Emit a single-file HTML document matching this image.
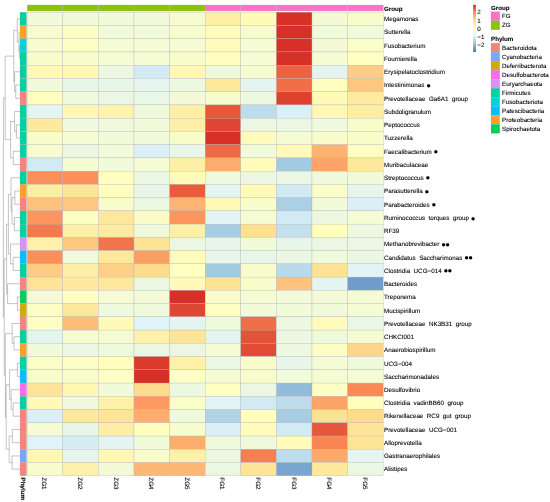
<!DOCTYPE html><html><head><meta charset="utf-8"><title>Heatmap</title>
<style>html,body{margin:0;padding:0;background:#fff}svg{display:block}text{font-family:"Liberation Sans",Arial,Helvetica,sans-serif;fill:#000;stroke:#000;stroke-width:0.09px;text-rendering:geometricPrecision}</style></head><body>
<svg width="550" height="502" viewBox="0 0 550 502">
<rect width="550" height="502" fill="#fff"/>
<path d="M20.00 45.31H19.40V58.56H20.00M20.00 32.07H19.00V51.94H19.40M20.00 18.82H17.30V42.00H19.00M20.00 85.05H15.80V98.30H20.00M20.00 71.81H14.60V91.67H15.80M17.30 30.41H13.80V81.74H14.60M20.00 124.79H16.40V138.03H20.00M20.00 111.54H14.60V131.41H16.40M20.00 151.28H13.20V164.53H20.00M14.60 121.48H10.60V157.90H13.20M13.80 56.08H5.20V139.69H10.60M20.00 191.02H14.80V204.26H20.00M20.00 217.51H14.40V230.75H20.00M14.80 197.64H12.00V224.13H14.40M20.00 177.77H11.00V210.89H12.00M20.00 257.25H13.20V270.49H20.00M20.00 244.00H10.60V263.87H13.20M11.00 194.33H8.40V253.93H10.60M20.00 296.98H17.40V310.23H20.00M20.00 283.74H7.60V303.61H17.40M8.40 224.13H6.60V293.67H7.60M20.00 336.72H14.00V349.97H20.00M20.00 323.47H12.20V343.34H14.00M20.00 363.21H17.40V376.46H20.00M20.00 402.95H13.20V416.19H20.00M20.00 389.70H11.20V409.57H13.20M17.40 369.83H9.60V399.64H11.20M20.00 429.44H12.40V442.69H20.00M20.00 455.93H12.00V469.18H20.00M12.40 436.06H9.20V462.55H12.00M9.60 384.74H6.20V449.31H9.20M12.20 333.41H5.40V417.02H6.20M6.60 258.90H4.20V375.22H5.40M5.20 97.88H3.40V317.06H4.20" fill="none" stroke="#6a6a6a" stroke-width="0.4"/>
<g stroke="#B0B0B0" stroke-width="0.3">
<rect x="27.20" y="5.0" width="35.60" height="6.0" fill="#8DC400"/>
<rect x="62.80" y="5.0" width="35.60" height="6.0" fill="#8DC400"/>
<rect x="98.40" y="5.0" width="35.60" height="6.0" fill="#8DC400"/>
<rect x="134.00" y="5.0" width="35.60" height="6.0" fill="#8DC400"/>
<rect x="169.60" y="5.0" width="35.60" height="6.0" fill="#8DC400"/>
<rect x="205.20" y="5.0" width="35.60" height="6.0" fill="#FD72C8"/>
<rect x="240.80" y="5.0" width="35.60" height="6.0" fill="#FD72C8"/>
<rect x="276.40" y="5.0" width="35.60" height="6.0" fill="#FD72C8"/>
<rect x="312.00" y="5.0" width="35.60" height="6.0" fill="#FD72C8"/>
<rect x="347.60" y="5.0" width="35.60" height="6.0" fill="#FD72C8"/>
<rect x="20.0" y="12.20" width="6.5" height="13.25" fill="#00D1A0"/>
<rect x="20.0" y="25.45" width="6.5" height="13.25" fill="#FFA024"/>
<rect x="20.0" y="38.69" width="6.5" height="13.25" fill="#00D0E0"/>
<rect x="20.0" y="51.94" width="6.5" height="13.25" fill="#00D1A0"/>
<rect x="20.0" y="65.18" width="6.5" height="13.25" fill="#00D1A0"/>
<rect x="20.0" y="78.43" width="6.5" height="13.25" fill="#00D1A0"/>
<rect x="20.0" y="91.67" width="6.5" height="13.25" fill="#F8837A"/>
<rect x="20.0" y="104.92" width="6.5" height="13.25" fill="#00D1A0"/>
<rect x="20.0" y="118.17" width="6.5" height="13.25" fill="#00D1A0"/>
<rect x="20.0" y="131.41" width="6.5" height="13.25" fill="#00D1A0"/>
<rect x="20.0" y="144.66" width="6.5" height="13.25" fill="#00D1A0"/>
<rect x="20.0" y="157.90" width="6.5" height="13.25" fill="#F8837A"/>
<rect x="20.0" y="171.15" width="6.5" height="13.25" fill="#00D1A0"/>
<rect x="20.0" y="184.39" width="6.5" height="13.25" fill="#FFA024"/>
<rect x="20.0" y="197.64" width="6.5" height="13.25" fill="#F8837A"/>
<rect x="20.0" y="210.89" width="6.5" height="13.25" fill="#00D1A0"/>
<rect x="20.0" y="224.13" width="6.5" height="13.25" fill="#00D1A0"/>
<rect x="20.0" y="237.38" width="6.5" height="13.25" fill="#D890FF"/>
<rect x="20.0" y="250.62" width="6.5" height="13.25" fill="#00BFFF"/>
<rect x="20.0" y="263.87" width="6.5" height="13.25" fill="#00D1A0"/>
<rect x="20.0" y="277.11" width="6.5" height="13.25" fill="#F8837A"/>
<rect x="20.0" y="290.36" width="6.5" height="13.25" fill="#00D05A"/>
<rect x="20.0" y="303.61" width="6.5" height="13.25" fill="#D0AB00"/>
<rect x="20.0" y="316.85" width="6.5" height="13.25" fill="#F8837A"/>
<rect x="20.0" y="330.10" width="6.5" height="13.25" fill="#00D1A0"/>
<rect x="20.0" y="343.34" width="6.5" height="13.25" fill="#FFA024"/>
<rect x="20.0" y="356.59" width="6.5" height="13.25" fill="#00D1A0"/>
<rect x="20.0" y="369.83" width="6.5" height="13.25" fill="#00BFFF"/>
<rect x="20.0" y="383.08" width="6.5" height="13.25" fill="#FF68F1"/>
<rect x="20.0" y="396.33" width="6.5" height="13.25" fill="#00D1A0"/>
<rect x="20.0" y="409.57" width="6.5" height="13.25" fill="#F8837A"/>
<rect x="20.0" y="422.82" width="6.5" height="13.25" fill="#F8837A"/>
<rect x="20.0" y="436.06" width="6.5" height="13.25" fill="#F8837A"/>
<rect x="20.0" y="449.31" width="6.5" height="13.25" fill="#7CA5F8"/>
<rect x="20.0" y="462.55" width="6.5" height="13.25" fill="#F8837A"/>
<rect x="27.20" y="12.20" width="35.60" height="13.25" fill="#F1FAD9"/>
<rect x="62.80" y="12.20" width="35.60" height="13.25" fill="#F1FAD9"/>
<rect x="98.40" y="12.20" width="35.60" height="13.25" fill="#F1FAD9"/>
<rect x="134.00" y="12.20" width="35.60" height="13.25" fill="#F1FAD9"/>
<rect x="169.60" y="12.20" width="35.60" height="13.25" fill="#F7FCCF"/>
<rect x="205.20" y="12.20" width="35.60" height="13.25" fill="#FEEFA7"/>
<rect x="240.80" y="12.20" width="35.60" height="13.25" fill="#FFFAB8"/>
<rect x="276.40" y="12.20" width="35.60" height="13.25" fill="#D73027"/>
<rect x="312.00" y="12.20" width="35.60" height="13.25" fill="#F3FAD5"/>
<rect x="347.60" y="12.20" width="35.60" height="13.25" fill="#F8FCCB"/>
<rect x="27.20" y="25.45" width="35.60" height="13.25" fill="#F7FCCF"/>
<rect x="62.80" y="25.45" width="35.60" height="13.25" fill="#FCFEC4"/>
<rect x="98.40" y="25.45" width="35.60" height="13.25" fill="#F1FAD9"/>
<rect x="134.00" y="25.45" width="35.60" height="13.25" fill="#F1FAD9"/>
<rect x="169.60" y="25.45" width="35.60" height="13.25" fill="#F7FCCF"/>
<rect x="205.20" y="25.45" width="35.60" height="13.25" fill="#FFFCBB"/>
<rect x="240.80" y="25.45" width="35.60" height="13.25" fill="#F8FCCB"/>
<rect x="276.40" y="25.45" width="35.60" height="13.25" fill="#D73027"/>
<rect x="312.00" y="25.45" width="35.60" height="13.25" fill="#F1FAD9"/>
<rect x="347.60" y="25.45" width="35.60" height="13.25" fill="#F1FAD9"/>
<rect x="27.20" y="38.69" width="35.60" height="13.25" fill="#F7FCCF"/>
<rect x="62.80" y="38.69" width="35.60" height="13.25" fill="#FCFEC4"/>
<rect x="98.40" y="38.69" width="35.60" height="13.25" fill="#F5FBD2"/>
<rect x="134.00" y="38.69" width="35.60" height="13.25" fill="#F5FBD2"/>
<rect x="169.60" y="38.69" width="35.60" height="13.25" fill="#F5FBD2"/>
<rect x="205.20" y="38.69" width="35.60" height="13.25" fill="#FFFCBB"/>
<rect x="240.80" y="38.69" width="35.60" height="13.25" fill="#F5FBD2"/>
<rect x="276.40" y="38.69" width="35.60" height="13.25" fill="#D73027"/>
<rect x="312.00" y="38.69" width="35.60" height="13.25" fill="#F3FAD5"/>
<rect x="347.60" y="38.69" width="35.60" height="13.25" fill="#FAFDC8"/>
<rect x="27.20" y="51.94" width="35.60" height="13.25" fill="#F8FCCB"/>
<rect x="62.80" y="51.94" width="35.60" height="13.25" fill="#F8FCCB"/>
<rect x="98.40" y="51.94" width="35.60" height="13.25" fill="#F5FBD2"/>
<rect x="134.00" y="51.94" width="35.60" height="13.25" fill="#F5FBD2"/>
<rect x="169.60" y="51.94" width="35.60" height="13.25" fill="#F8FCCB"/>
<rect x="205.20" y="51.94" width="35.60" height="13.25" fill="#FFFEBE"/>
<rect x="240.80" y="51.94" width="35.60" height="13.25" fill="#F5FBD2"/>
<rect x="276.40" y="51.94" width="35.60" height="13.25" fill="#D73027"/>
<rect x="312.00" y="51.94" width="35.60" height="13.25" fill="#F5FBD2"/>
<rect x="347.60" y="51.94" width="35.60" height="13.25" fill="#FEFFC1"/>
<rect x="27.20" y="65.18" width="35.60" height="13.25" fill="#FFFAB8"/>
<rect x="62.80" y="65.18" width="35.60" height="13.25" fill="#FFF8B5"/>
<rect x="98.40" y="65.18" width="35.60" height="13.25" fill="#EBF7E3"/>
<rect x="134.00" y="65.18" width="35.60" height="13.25" fill="#D2EAF3"/>
<rect x="169.60" y="65.18" width="35.60" height="13.25" fill="#FFF8B5"/>
<rect x="205.20" y="65.18" width="35.60" height="13.25" fill="#EFF9DC"/>
<rect x="240.80" y="65.18" width="35.60" height="13.25" fill="#F7FCCF"/>
<rect x="276.40" y="65.18" width="35.60" height="13.25" fill="#EB6342"/>
<rect x="312.00" y="65.18" width="35.60" height="13.25" fill="#E4F4F1"/>
<rect x="347.60" y="65.18" width="35.60" height="13.25" fill="#FECC83"/>
<rect x="27.20" y="78.43" width="35.60" height="13.25" fill="#F1FAD9"/>
<rect x="62.80" y="78.43" width="35.60" height="13.25" fill="#E8F6EA"/>
<rect x="98.40" y="78.43" width="35.60" height="13.25" fill="#E8F6EA"/>
<rect x="134.00" y="78.43" width="35.60" height="13.25" fill="#E6F5EE"/>
<rect x="169.60" y="78.43" width="35.60" height="13.25" fill="#EDF8E0"/>
<rect x="205.20" y="78.43" width="35.60" height="13.25" fill="#FEE89B"/>
<rect x="240.80" y="78.43" width="35.60" height="13.25" fill="#E4F4F1"/>
<rect x="276.40" y="78.43" width="35.60" height="13.25" fill="#F06E48"/>
<rect x="312.00" y="78.43" width="35.60" height="13.25" fill="#FFFEBE"/>
<rect x="347.60" y="78.43" width="35.60" height="13.25" fill="#FDC77F"/>
<rect x="27.20" y="91.67" width="35.60" height="13.25" fill="#FFFEBE"/>
<rect x="62.80" y="91.67" width="35.60" height="13.25" fill="#EFF9DC"/>
<rect x="98.40" y="91.67" width="35.60" height="13.25" fill="#EBF7E3"/>
<rect x="134.00" y="91.67" width="35.60" height="13.25" fill="#E9F7E7"/>
<rect x="169.60" y="91.67" width="35.60" height="13.25" fill="#F3FAD5"/>
<rect x="205.20" y="91.67" width="35.60" height="13.25" fill="#F7FCCF"/>
<rect x="240.80" y="91.67" width="35.60" height="13.25" fill="#EDF8E0"/>
<rect x="276.40" y="91.67" width="35.60" height="13.25" fill="#DE4130"/>
<rect x="312.00" y="91.67" width="35.60" height="13.25" fill="#FFFAB8"/>
<rect x="347.60" y="91.67" width="35.60" height="13.25" fill="#FEEBA1"/>
<rect x="27.20" y="104.92" width="35.60" height="13.25" fill="#E4F4F1"/>
<rect x="62.80" y="104.92" width="35.60" height="13.25" fill="#FFF7B2"/>
<rect x="98.40" y="104.92" width="35.60" height="13.25" fill="#FFF3AC"/>
<rect x="134.00" y="104.92" width="35.60" height="13.25" fill="#EFF9DC"/>
<rect x="169.60" y="104.92" width="35.60" height="13.25" fill="#FEEFA7"/>
<rect x="205.20" y="104.92" width="35.60" height="13.25" fill="#E7573C"/>
<rect x="240.80" y="104.92" width="35.60" height="13.25" fill="#BEDDEC"/>
<rect x="276.40" y="104.92" width="35.60" height="13.25" fill="#DBF0F6"/>
<rect x="312.00" y="104.92" width="35.60" height="13.25" fill="#FFF7B2"/>
<rect x="347.60" y="104.92" width="35.60" height="13.25" fill="#FEEDA4"/>
<rect x="27.20" y="118.17" width="35.60" height="13.25" fill="#FEE99E"/>
<rect x="62.80" y="118.17" width="35.60" height="13.25" fill="#EFF9DC"/>
<rect x="98.40" y="118.17" width="35.60" height="13.25" fill="#EFF9DC"/>
<rect x="134.00" y="118.17" width="35.60" height="13.25" fill="#F1FAD9"/>
<rect x="169.60" y="118.17" width="35.60" height="13.25" fill="#FEEFA7"/>
<rect x="205.20" y="118.17" width="35.60" height="13.25" fill="#E04733"/>
<rect x="240.80" y="118.17" width="35.60" height="13.25" fill="#EBF7E3"/>
<rect x="276.40" y="118.17" width="35.60" height="13.25" fill="#EBF7E3"/>
<rect x="312.00" y="118.17" width="35.60" height="13.25" fill="#EFF9DC"/>
<rect x="347.60" y="118.17" width="35.60" height="13.25" fill="#F8FCCB"/>
<rect x="27.20" y="131.41" width="35.60" height="13.25" fill="#F8FCCB"/>
<rect x="62.80" y="131.41" width="35.60" height="13.25" fill="#F5FBD2"/>
<rect x="98.40" y="131.41" width="35.60" height="13.25" fill="#F1FAD9"/>
<rect x="134.00" y="131.41" width="35.60" height="13.25" fill="#F1FAD9"/>
<rect x="169.60" y="131.41" width="35.60" height="13.25" fill="#F8FCCB"/>
<rect x="205.20" y="131.41" width="35.60" height="13.25" fill="#D73027"/>
<rect x="240.80" y="131.41" width="35.60" height="13.25" fill="#FFFCBB"/>
<rect x="276.40" y="131.41" width="35.60" height="13.25" fill="#F5FBD2"/>
<rect x="312.00" y="131.41" width="35.60" height="13.25" fill="#F8FCCB"/>
<rect x="347.60" y="131.41" width="35.60" height="13.25" fill="#F8FCCB"/>
<rect x="27.20" y="144.66" width="35.60" height="13.25" fill="#F7FCCF"/>
<rect x="62.80" y="144.66" width="35.60" height="13.25" fill="#EBF7E3"/>
<rect x="98.40" y="144.66" width="35.60" height="13.25" fill="#F1FAD9"/>
<rect x="134.00" y="144.66" width="35.60" height="13.25" fill="#DBF0F6"/>
<rect x="169.60" y="144.66" width="35.60" height="13.25" fill="#E9F7E7"/>
<rect x="205.20" y="144.66" width="35.60" height="13.25" fill="#ED6845"/>
<rect x="240.80" y="144.66" width="35.60" height="13.25" fill="#F1FAD9"/>
<rect x="276.40" y="144.66" width="35.60" height="13.25" fill="#FFFAB8"/>
<rect x="312.00" y="144.66" width="35.60" height="13.25" fill="#FDB372"/>
<rect x="347.60" y="144.66" width="35.60" height="13.25" fill="#FCFEC4"/>
<rect x="27.20" y="157.90" width="35.60" height="13.25" fill="#D2EAF3"/>
<rect x="62.80" y="157.90" width="35.60" height="13.25" fill="#F5FBD2"/>
<rect x="98.40" y="157.90" width="35.60" height="13.25" fill="#F1FAD9"/>
<rect x="134.00" y="157.90" width="35.60" height="13.25" fill="#F5FBD2"/>
<rect x="169.60" y="157.90" width="35.60" height="13.25" fill="#FEEFA7"/>
<rect x="205.20" y="157.90" width="35.60" height="13.25" fill="#FDAE6F"/>
<rect x="240.80" y="157.90" width="35.60" height="13.25" fill="#FFFCBB"/>
<rect x="276.40" y="157.90" width="35.60" height="13.25" fill="#A2CAE1"/>
<rect x="312.00" y="157.90" width="35.60" height="13.25" fill="#FDA468"/>
<rect x="347.60" y="157.90" width="35.60" height="13.25" fill="#FEE89B"/>
<rect x="27.20" y="171.15" width="35.60" height="13.25" fill="#FC905B"/>
<rect x="62.80" y="171.15" width="35.60" height="13.25" fill="#FC905B"/>
<rect x="98.40" y="171.15" width="35.60" height="13.25" fill="#FFFEBE"/>
<rect x="134.00" y="171.15" width="35.60" height="13.25" fill="#EBF7E3"/>
<rect x="169.60" y="171.15" width="35.60" height="13.25" fill="#FFFCBB"/>
<rect x="205.20" y="171.15" width="35.60" height="13.25" fill="#EFF9DC"/>
<rect x="240.80" y="171.15" width="35.60" height="13.25" fill="#EBF7E3"/>
<rect x="276.40" y="171.15" width="35.60" height="13.25" fill="#EBF7E3"/>
<rect x="312.00" y="171.15" width="35.60" height="13.25" fill="#EFF9DC"/>
<rect x="347.60" y="171.15" width="35.60" height="13.25" fill="#F1FAD9"/>
<rect x="27.20" y="184.39" width="35.60" height="13.25" fill="#FEEDA4"/>
<rect x="62.80" y="184.39" width="35.60" height="13.25" fill="#FEE496"/>
<rect x="98.40" y="184.39" width="35.60" height="13.25" fill="#FFFEBE"/>
<rect x="134.00" y="184.39" width="35.60" height="13.25" fill="#E8F6EA"/>
<rect x="169.60" y="184.39" width="35.60" height="13.25" fill="#E95D3F"/>
<rect x="205.20" y="184.39" width="35.60" height="13.25" fill="#E4F4F1"/>
<rect x="240.80" y="184.39" width="35.60" height="13.25" fill="#FFFAB8"/>
<rect x="276.40" y="184.39" width="35.60" height="13.25" fill="#D2EAF3"/>
<rect x="312.00" y="184.39" width="35.60" height="13.25" fill="#FAFDC8"/>
<rect x="347.60" y="184.39" width="35.60" height="13.25" fill="#E8F6EA"/>
<rect x="27.20" y="197.64" width="35.60" height="13.25" fill="#FDC27C"/>
<rect x="62.80" y="197.64" width="35.60" height="13.25" fill="#FDC77F"/>
<rect x="98.40" y="197.64" width="35.60" height="13.25" fill="#F8FCCB"/>
<rect x="134.00" y="197.64" width="35.60" height="13.25" fill="#EDF8E0"/>
<rect x="169.60" y="197.64" width="35.60" height="13.25" fill="#FDB372"/>
<rect x="205.20" y="197.64" width="35.60" height="13.25" fill="#FFFAB8"/>
<rect x="240.80" y="197.64" width="35.60" height="13.25" fill="#F8FCCB"/>
<rect x="276.40" y="197.64" width="35.60" height="13.25" fill="#ABD0E5"/>
<rect x="312.00" y="197.64" width="35.60" height="13.25" fill="#F1FAD9"/>
<rect x="347.60" y="197.64" width="35.60" height="13.25" fill="#DBF0F6"/>
<rect x="27.20" y="210.89" width="35.60" height="13.25" fill="#FC955E"/>
<rect x="62.80" y="210.89" width="35.60" height="13.25" fill="#FCFEC4"/>
<rect x="98.40" y="210.89" width="35.60" height="13.25" fill="#FEE89B"/>
<rect x="134.00" y="210.89" width="35.60" height="13.25" fill="#FAFDC8"/>
<rect x="169.60" y="210.89" width="35.60" height="13.25" fill="#FC955E"/>
<rect x="205.20" y="210.89" width="35.60" height="13.25" fill="#E2F4F5"/>
<rect x="240.80" y="210.89" width="35.60" height="13.25" fill="#F5FBD2"/>
<rect x="276.40" y="210.89" width="35.60" height="13.25" fill="#D2EAF3"/>
<rect x="312.00" y="210.89" width="35.60" height="13.25" fill="#EDF8E0"/>
<rect x="347.60" y="210.89" width="35.60" height="13.25" fill="#F5FBD2"/>
<rect x="27.20" y="224.13" width="35.60" height="13.25" fill="#F4794E"/>
<rect x="62.80" y="224.13" width="35.60" height="13.25" fill="#FEEFA7"/>
<rect x="98.40" y="224.13" width="35.60" height="13.25" fill="#FEEBA1"/>
<rect x="134.00" y="224.13" width="35.60" height="13.25" fill="#EFF9DC"/>
<rect x="169.60" y="224.13" width="35.60" height="13.25" fill="#FEEFA7"/>
<rect x="205.20" y="224.13" width="35.60" height="13.25" fill="#A7CDE3"/>
<rect x="240.80" y="224.13" width="35.60" height="13.25" fill="#FEE090"/>
<rect x="276.40" y="224.13" width="35.60" height="13.25" fill="#C3E0ED"/>
<rect x="312.00" y="224.13" width="35.60" height="13.25" fill="#FFFEBE"/>
<rect x="347.60" y="224.13" width="35.60" height="13.25" fill="#EDF8E0"/>
<rect x="27.20" y="237.38" width="35.60" height="13.25" fill="#FFF1AA"/>
<rect x="62.80" y="237.38" width="35.60" height="13.25" fill="#FDC77F"/>
<rect x="98.40" y="237.38" width="35.60" height="13.25" fill="#F2744B"/>
<rect x="134.00" y="237.38" width="35.60" height="13.25" fill="#FEE293"/>
<rect x="169.60" y="237.38" width="35.60" height="13.25" fill="#EBF7E3"/>
<rect x="205.20" y="237.38" width="35.60" height="13.25" fill="#E8F6EA"/>
<rect x="240.80" y="237.38" width="35.60" height="13.25" fill="#F1FAD9"/>
<rect x="276.40" y="237.38" width="35.60" height="13.25" fill="#E8F6EA"/>
<rect x="312.00" y="237.38" width="35.60" height="13.25" fill="#EBF7E3"/>
<rect x="347.60" y="237.38" width="35.60" height="13.25" fill="#EBF7E3"/>
<rect x="27.20" y="250.62" width="35.60" height="13.25" fill="#FC905B"/>
<rect x="62.80" y="250.62" width="35.60" height="13.25" fill="#EFF9DC"/>
<rect x="98.40" y="250.62" width="35.60" height="13.25" fill="#FEE89B"/>
<rect x="134.00" y="250.62" width="35.60" height="13.25" fill="#FC9F65"/>
<rect x="169.60" y="250.62" width="35.60" height="13.25" fill="#FFFCBB"/>
<rect x="205.20" y="250.62" width="35.60" height="13.25" fill="#E8F6EA"/>
<rect x="240.80" y="250.62" width="35.60" height="13.25" fill="#E8F6EA"/>
<rect x="276.40" y="250.62" width="35.60" height="13.25" fill="#EBF7E3"/>
<rect x="312.00" y="250.62" width="35.60" height="13.25" fill="#EFF9DC"/>
<rect x="347.60" y="250.62" width="35.60" height="13.25" fill="#EBF7E3"/>
<rect x="27.20" y="263.87" width="35.60" height="13.25" fill="#FECC83"/>
<rect x="62.80" y="263.87" width="35.60" height="13.25" fill="#FEEFA7"/>
<rect x="98.40" y="263.87" width="35.60" height="13.25" fill="#FED186"/>
<rect x="134.00" y="263.87" width="35.60" height="13.25" fill="#FEDB8D"/>
<rect x="169.60" y="263.87" width="35.60" height="13.25" fill="#FEFFC1"/>
<rect x="205.20" y="263.87" width="35.60" height="13.25" fill="#A2CAE1"/>
<rect x="240.80" y="263.87" width="35.60" height="13.25" fill="#F8FCCB"/>
<rect x="276.40" y="263.87" width="35.60" height="13.25" fill="#BADAEA"/>
<rect x="312.00" y="263.87" width="35.60" height="13.25" fill="#FEE293"/>
<rect x="347.60" y="263.87" width="35.60" height="13.25" fill="#E2F4F5"/>
<rect x="27.20" y="277.11" width="35.60" height="13.25" fill="#FEE496"/>
<rect x="62.80" y="277.11" width="35.60" height="13.25" fill="#FEE99E"/>
<rect x="98.40" y="277.11" width="35.60" height="13.25" fill="#FEE89B"/>
<rect x="134.00" y="277.11" width="35.60" height="13.25" fill="#EBF7E3"/>
<rect x="169.60" y="277.11" width="35.60" height="13.25" fill="#FFFAB8"/>
<rect x="205.20" y="277.11" width="35.60" height="13.25" fill="#FEE293"/>
<rect x="240.80" y="277.11" width="35.60" height="13.25" fill="#F8FCCB"/>
<rect x="276.40" y="277.11" width="35.60" height="13.25" fill="#FDC27C"/>
<rect x="312.00" y="277.11" width="35.60" height="13.25" fill="#E4F4F1"/>
<rect x="347.60" y="277.11" width="35.60" height="13.25" fill="#6E9DC9"/>
<rect x="27.20" y="290.36" width="35.60" height="13.25" fill="#F3FAD5"/>
<rect x="62.80" y="290.36" width="35.60" height="13.25" fill="#FEFFC1"/>
<rect x="98.40" y="290.36" width="35.60" height="13.25" fill="#F5FBD2"/>
<rect x="134.00" y="290.36" width="35.60" height="13.25" fill="#F3FAD5"/>
<rect x="169.60" y="290.36" width="35.60" height="13.25" fill="#D73027"/>
<rect x="205.20" y="290.36" width="35.60" height="13.25" fill="#F8FCCB"/>
<rect x="240.80" y="290.36" width="35.60" height="13.25" fill="#F5FBD2"/>
<rect x="276.40" y="290.36" width="35.60" height="13.25" fill="#F1FAD9"/>
<rect x="312.00" y="290.36" width="35.60" height="13.25" fill="#F3FAD5"/>
<rect x="347.60" y="290.36" width="35.60" height="13.25" fill="#F5FBD2"/>
<rect x="27.20" y="303.61" width="35.60" height="13.25" fill="#FCFEC4"/>
<rect x="62.80" y="303.61" width="35.60" height="13.25" fill="#FEE89B"/>
<rect x="98.40" y="303.61" width="35.60" height="13.25" fill="#EFF9DC"/>
<rect x="134.00" y="303.61" width="35.60" height="13.25" fill="#EFF9DC"/>
<rect x="169.60" y="303.61" width="35.60" height="13.25" fill="#E04733"/>
<rect x="205.20" y="303.61" width="35.60" height="13.25" fill="#FEFFC1"/>
<rect x="240.80" y="303.61" width="35.60" height="13.25" fill="#F1FAD9"/>
<rect x="276.40" y="303.61" width="35.60" height="13.25" fill="#F1FAD9"/>
<rect x="312.00" y="303.61" width="35.60" height="13.25" fill="#F1FAD9"/>
<rect x="347.60" y="303.61" width="35.60" height="13.25" fill="#F5FBD2"/>
<rect x="27.20" y="316.85" width="35.60" height="13.25" fill="#FCFEC4"/>
<rect x="62.80" y="316.85" width="35.60" height="13.25" fill="#FDBD79"/>
<rect x="98.40" y="316.85" width="35.60" height="13.25" fill="#FFFAB8"/>
<rect x="134.00" y="316.85" width="35.60" height="13.25" fill="#E0F3F8"/>
<rect x="169.60" y="316.85" width="35.60" height="13.25" fill="#E4F4F1"/>
<rect x="205.20" y="316.85" width="35.60" height="13.25" fill="#EFF9DC"/>
<rect x="240.80" y="316.85" width="35.60" height="13.25" fill="#F06E48"/>
<rect x="276.40" y="316.85" width="35.60" height="13.25" fill="#EDF8E0"/>
<rect x="312.00" y="316.85" width="35.60" height="13.25" fill="#FFFCBB"/>
<rect x="347.60" y="316.85" width="35.60" height="13.25" fill="#E9F7E7"/>
<rect x="27.20" y="330.10" width="35.60" height="13.25" fill="#E4F4F1"/>
<rect x="62.80" y="330.10" width="35.60" height="13.25" fill="#F7FCCF"/>
<rect x="98.40" y="330.10" width="35.60" height="13.25" fill="#F5FBD2"/>
<rect x="134.00" y="330.10" width="35.60" height="13.25" fill="#FFF1AA"/>
<rect x="169.60" y="330.10" width="35.60" height="13.25" fill="#FEE496"/>
<rect x="205.20" y="330.10" width="35.60" height="13.25" fill="#E4F4F1"/>
<rect x="240.80" y="330.10" width="35.60" height="13.25" fill="#E45239"/>
<rect x="276.40" y="330.10" width="35.60" height="13.25" fill="#EBF7E3"/>
<rect x="312.00" y="330.10" width="35.60" height="13.25" fill="#EFF9DC"/>
<rect x="347.60" y="330.10" width="35.60" height="13.25" fill="#F5FBD2"/>
<rect x="27.20" y="343.34" width="35.60" height="13.25" fill="#F1FAD9"/>
<rect x="62.80" y="343.34" width="35.60" height="13.25" fill="#EBF7E3"/>
<rect x="98.40" y="343.34" width="35.60" height="13.25" fill="#EFF9DC"/>
<rect x="134.00" y="343.34" width="35.60" height="13.25" fill="#EBF7E3"/>
<rect x="169.60" y="343.34" width="35.60" height="13.25" fill="#EBF7E3"/>
<rect x="205.20" y="343.34" width="35.60" height="13.25" fill="#F5FBD2"/>
<rect x="240.80" y="343.34" width="35.60" height="13.25" fill="#E24C36"/>
<rect x="276.40" y="343.34" width="35.60" height="13.25" fill="#EDF8E0"/>
<rect x="312.00" y="343.34" width="35.60" height="13.25" fill="#FCFEC4"/>
<rect x="347.60" y="343.34" width="35.60" height="13.25" fill="#FED689"/>
<rect x="27.20" y="356.59" width="35.60" height="13.25" fill="#FAFDC8"/>
<rect x="62.80" y="356.59" width="35.60" height="13.25" fill="#FAFDC8"/>
<rect x="98.40" y="356.59" width="35.60" height="13.25" fill="#FFFEBE"/>
<rect x="134.00" y="356.59" width="35.60" height="13.25" fill="#DB3B2D"/>
<rect x="169.60" y="356.59" width="35.60" height="13.25" fill="#FFF1AA"/>
<rect x="205.20" y="356.59" width="35.60" height="13.25" fill="#EBF7E3"/>
<rect x="240.80" y="356.59" width="35.60" height="13.25" fill="#F8FCCB"/>
<rect x="276.40" y="356.59" width="35.60" height="13.25" fill="#E8F6EA"/>
<rect x="312.00" y="356.59" width="35.60" height="13.25" fill="#F5FBD2"/>
<rect x="347.60" y="356.59" width="35.60" height="13.25" fill="#EFF9DC"/>
<rect x="27.20" y="369.83" width="35.60" height="13.25" fill="#F8FCCB"/>
<rect x="62.80" y="369.83" width="35.60" height="13.25" fill="#F8FCCB"/>
<rect x="98.40" y="369.83" width="35.60" height="13.25" fill="#FCFEC4"/>
<rect x="134.00" y="369.83" width="35.60" height="13.25" fill="#D73027"/>
<rect x="169.60" y="369.83" width="35.60" height="13.25" fill="#FCFEC4"/>
<rect x="205.20" y="369.83" width="35.60" height="13.25" fill="#F5FBD2"/>
<rect x="240.80" y="369.83" width="35.60" height="13.25" fill="#F8FCCB"/>
<rect x="276.40" y="369.83" width="35.60" height="13.25" fill="#F1FAD9"/>
<rect x="312.00" y="369.83" width="35.60" height="13.25" fill="#F5FBD2"/>
<rect x="347.60" y="369.83" width="35.60" height="13.25" fill="#F5FBD2"/>
<rect x="27.20" y="383.08" width="35.60" height="13.25" fill="#FEE496"/>
<rect x="62.80" y="383.08" width="35.60" height="13.25" fill="#FFF7B2"/>
<rect x="98.40" y="383.08" width="35.60" height="13.25" fill="#F1FAD9"/>
<rect x="134.00" y="383.08" width="35.60" height="13.25" fill="#FEDB8D"/>
<rect x="169.60" y="383.08" width="35.60" height="13.25" fill="#EDF8E0"/>
<rect x="205.20" y="383.08" width="35.60" height="13.25" fill="#FEFFC1"/>
<rect x="240.80" y="383.08" width="35.60" height="13.25" fill="#EBF7E3"/>
<rect x="276.40" y="383.08" width="35.60" height="13.25" fill="#8FBDDA"/>
<rect x="312.00" y="383.08" width="35.60" height="13.25" fill="#FCFEC4"/>
<rect x="347.60" y="383.08" width="35.60" height="13.25" fill="#FB8A57"/>
<rect x="27.20" y="396.33" width="35.60" height="13.25" fill="#FFFAB8"/>
<rect x="62.80" y="396.33" width="35.60" height="13.25" fill="#EFF9DC"/>
<rect x="98.40" y="396.33" width="35.60" height="13.25" fill="#FFF1AA"/>
<rect x="134.00" y="396.33" width="35.60" height="13.25" fill="#FC9A61"/>
<rect x="169.60" y="396.33" width="35.60" height="13.25" fill="#FAFDC8"/>
<rect x="205.20" y="396.33" width="35.60" height="13.25" fill="#E2F4F5"/>
<rect x="240.80" y="396.33" width="35.60" height="13.25" fill="#D2EAF3"/>
<rect x="276.40" y="396.33" width="35.60" height="13.25" fill="#BEDDEC"/>
<rect x="312.00" y="396.33" width="35.60" height="13.25" fill="#FDA468"/>
<rect x="347.60" y="396.33" width="35.60" height="13.25" fill="#FFFEBE"/>
<rect x="27.20" y="409.57" width="35.60" height="13.25" fill="#DBF0F6"/>
<rect x="62.80" y="409.57" width="35.60" height="13.25" fill="#FEE89B"/>
<rect x="98.40" y="409.57" width="35.60" height="13.25" fill="#FEE496"/>
<rect x="134.00" y="409.57" width="35.60" height="13.25" fill="#FDAE6F"/>
<rect x="169.60" y="409.57" width="35.60" height="13.25" fill="#EFF9DC"/>
<rect x="205.20" y="409.57" width="35.60" height="13.25" fill="#B0D3E6"/>
<rect x="240.80" y="409.57" width="35.60" height="13.25" fill="#FFFEBE"/>
<rect x="276.40" y="409.57" width="35.60" height="13.25" fill="#A7CDE3"/>
<rect x="312.00" y="409.57" width="35.60" height="13.25" fill="#FEE293"/>
<rect x="347.60" y="409.57" width="35.60" height="13.25" fill="#FEDB8D"/>
<rect x="27.20" y="422.82" width="35.60" height="13.25" fill="#F5FBD2"/>
<rect x="62.80" y="422.82" width="35.60" height="13.25" fill="#E8F6EA"/>
<rect x="98.40" y="422.82" width="35.60" height="13.25" fill="#FEEDA4"/>
<rect x="134.00" y="422.82" width="35.60" height="13.25" fill="#FFFEBE"/>
<rect x="169.60" y="422.82" width="35.60" height="13.25" fill="#F7FCCF"/>
<rect x="205.20" y="422.82" width="35.60" height="13.25" fill="#DBF0F6"/>
<rect x="240.80" y="422.82" width="35.60" height="13.25" fill="#FFFCBB"/>
<rect x="276.40" y="422.82" width="35.60" height="13.25" fill="#D2EAF3"/>
<rect x="312.00" y="422.82" width="35.60" height="13.25" fill="#E7573C"/>
<rect x="347.60" y="422.82" width="35.60" height="13.25" fill="#FEE496"/>
<rect x="27.20" y="436.06" width="35.60" height="13.25" fill="#E0F3F8"/>
<rect x="62.80" y="436.06" width="35.60" height="13.25" fill="#D6EDF4"/>
<rect x="98.40" y="436.06" width="35.60" height="13.25" fill="#E4F4F1"/>
<rect x="134.00" y="436.06" width="35.60" height="13.25" fill="#F1FAD9"/>
<rect x="169.60" y="436.06" width="35.60" height="13.25" fill="#FDAE6F"/>
<rect x="205.20" y="436.06" width="35.60" height="13.25" fill="#EFF9DC"/>
<rect x="240.80" y="436.06" width="35.60" height="13.25" fill="#EFF9DC"/>
<rect x="276.40" y="436.06" width="35.60" height="13.25" fill="#FFFCBB"/>
<rect x="312.00" y="436.06" width="35.60" height="13.25" fill="#F98554"/>
<rect x="347.60" y="436.06" width="35.60" height="13.25" fill="#FEE496"/>
<rect x="27.20" y="449.31" width="35.60" height="13.25" fill="#FFF7B2"/>
<rect x="62.80" y="449.31" width="35.60" height="13.25" fill="#E6F5EE"/>
<rect x="98.40" y="449.31" width="35.60" height="13.25" fill="#FFF8B5"/>
<rect x="134.00" y="449.31" width="35.60" height="13.25" fill="#F8FCCB"/>
<rect x="169.60" y="449.31" width="35.60" height="13.25" fill="#FFF1AA"/>
<rect x="205.20" y="449.31" width="35.60" height="13.25" fill="#EBF7E3"/>
<rect x="240.80" y="449.31" width="35.60" height="13.25" fill="#F67F51"/>
<rect x="276.40" y="449.31" width="35.60" height="13.25" fill="#BEDDEC"/>
<rect x="312.00" y="449.31" width="35.60" height="13.25" fill="#FDA96B"/>
<rect x="347.60" y="449.31" width="35.60" height="13.25" fill="#E6F5EE"/>
<rect x="27.20" y="462.55" width="35.60" height="13.25" fill="#F8FCCB"/>
<rect x="62.80" y="462.55" width="35.60" height="13.25" fill="#FFF1AA"/>
<rect x="98.40" y="462.55" width="35.60" height="13.25" fill="#F3FAD5"/>
<rect x="134.00" y="462.55" width="35.60" height="13.25" fill="#FDB875"/>
<rect x="169.60" y="462.55" width="35.60" height="13.25" fill="#FDB875"/>
<rect x="205.20" y="462.55" width="35.60" height="13.25" fill="#EBF7E3"/>
<rect x="240.80" y="462.55" width="35.60" height="13.25" fill="#FEE496"/>
<rect x="276.40" y="462.55" width="35.60" height="13.25" fill="#78A6CE"/>
<rect x="312.00" y="462.55" width="35.60" height="13.25" fill="#FEE89B"/>
<rect x="347.60" y="462.55" width="35.60" height="13.25" fill="#EBF7E3"/>
</g>
<text x="384.0" y="10.7" font-size="6.2" font-weight="bold">Group</text>
<text x="384.0" y="21.12" font-size="6.28" xml:space="preserve">Megamonas</text>
<text x="384.0" y="34.37" font-size="6.28" xml:space="preserve">Sutterella</text>
<text x="384.0" y="47.61" font-size="6.28" xml:space="preserve">Fusobacterium</text>
<text x="384.0" y="60.86" font-size="6.28" xml:space="preserve">Fournierella</text>
<text x="384.0" y="74.11" font-size="6.28" xml:space="preserve">Erysipelatoclostridium</text>
<text x="384.0" y="87.35" font-size="6.28" xml:space="preserve">Intestinimonas<tspan font-size="7.8" stroke="none" dx="1.8" dy="0.35">●</tspan></text>
<text x="384.0" y="100.60" font-size="6.28" xml:space="preserve">Prevotellaceae  Ga6A1  group</text>
<text x="384.0" y="113.84" font-size="6.28" xml:space="preserve">Subdoligranulum</text>
<text x="384.0" y="127.09" font-size="6.28" xml:space="preserve">Peptococcus</text>
<text x="384.0" y="140.33" font-size="6.28" xml:space="preserve">Tuzzerella</text>
<text x="384.0" y="153.58" font-size="6.28" xml:space="preserve">Faecalibacterium<tspan font-size="7.8" stroke="none" dx="1.8" dy="0.35">●</tspan></text>
<text x="384.0" y="166.83" font-size="6.28" xml:space="preserve">Muribaculaceae</text>
<text x="384.0" y="180.07" font-size="6.28" xml:space="preserve">Streptococcus<tspan font-size="7.8" stroke="none" dx="1.8" dy="0.35">●</tspan></text>
<text x="384.0" y="193.32" font-size="6.28" xml:space="preserve">Parasutterella<tspan font-size="7.8" stroke="none" dx="1.8" dy="0.35">●</tspan></text>
<text x="384.0" y="206.56" font-size="6.28" xml:space="preserve">Parabacteroides<tspan font-size="7.8" stroke="none" dx="1.8" dy="0.35">●</tspan></text>
<text x="384.0" y="219.81" font-size="6.28" xml:space="preserve">Ruminococcus  torques  group<tspan font-size="7.8" stroke="none" dx="1.8" dy="1.35">●</tspan></text>
<text x="384.0" y="233.05" font-size="6.28" xml:space="preserve">RF39</text>
<text x="384.0" y="246.30" font-size="6.28" xml:space="preserve">Methanobrevibacter<tspan font-size="7.8" stroke="none" dx="1.8" dy="0.35">●</tspan><tspan font-size="7.8" stroke="none" dx="-0.75" dy="0">●</tspan></text>
<text x="384.0" y="259.55" font-size="6.28" xml:space="preserve">Candidatus  Saccharimonas<tspan font-size="7.8" stroke="none" dx="1.8" dy="0.35">●</tspan><tspan font-size="7.8" stroke="none" dx="-0.75" dy="0">●</tspan></text>
<text x="384.0" y="272.79" font-size="6.28" xml:space="preserve">Clostridia  UCG−014<tspan font-size="7.8" stroke="none" dx="1.8" dy="0.35">●</tspan><tspan font-size="7.8" stroke="none" dx="-0.75" dy="0">●</tspan></text>
<text x="384.0" y="286.04" font-size="6.28" xml:space="preserve">Bacteroides</text>
<text x="384.0" y="299.28" font-size="6.28" xml:space="preserve">Treponema</text>
<text x="384.0" y="312.53" font-size="6.28" xml:space="preserve">Mucispirillum</text>
<text x="384.0" y="325.77" font-size="6.28" xml:space="preserve">Prevotellaceae  NK3B31  group</text>
<text x="384.0" y="339.02" font-size="6.28" xml:space="preserve">CHKCI001</text>
<text x="384.0" y="352.27" font-size="6.28" xml:space="preserve">Anaerobiospirillum</text>
<text x="384.0" y="365.51" font-size="6.28" xml:space="preserve">UCG−004</text>
<text x="384.0" y="378.76" font-size="6.28" xml:space="preserve">Saccharimonadales</text>
<text x="384.0" y="392.00" font-size="6.28" xml:space="preserve">Desulfovibrio</text>
<text x="384.0" y="405.25" font-size="6.28" xml:space="preserve">Clostridia  vadinBB60  group</text>
<text x="384.0" y="418.49" font-size="6.28" xml:space="preserve">Rikenellaceae  RC9  gut  group</text>
<text x="384.0" y="431.74" font-size="6.28" xml:space="preserve">Prevotellaceae  UCG−001</text>
<text x="384.0" y="444.99" font-size="6.28" xml:space="preserve">Alloprevotella</text>
<text x="384.0" y="458.23" font-size="6.28" xml:space="preserve">Gastranaerophilales</text>
<text x="384.0" y="471.48" font-size="6.28" xml:space="preserve">Alistipes</text>
<text transform="translate(42.40,477.3) rotate(90)" font-size="6.28">ZG1</text>
<text transform="translate(78.00,477.3) rotate(90)" font-size="6.28">ZG2</text>
<text transform="translate(113.60,477.3) rotate(90)" font-size="6.28">ZG3</text>
<text transform="translate(149.20,477.3) rotate(90)" font-size="6.28">ZG4</text>
<text transform="translate(184.80,477.3) rotate(90)" font-size="6.28">ZG5</text>
<text transform="translate(220.40,477.3) rotate(90)" font-size="6.28">FG1</text>
<text transform="translate(256.00,477.3) rotate(90)" font-size="6.28">FG2</text>
<text transform="translate(291.60,477.3) rotate(90)" font-size="6.28">FG3</text>
<text transform="translate(327.20,477.3) rotate(90)" font-size="6.28">FG4</text>
<text transform="translate(362.80,477.3) rotate(90)" font-size="6.28">FG5</text>
<text transform="translate(20.7,477.6) rotate(90)" font-size="6.2" font-weight="bold">Phylum</text>
<defs><linearGradient id="lg" x1="0" y1="1" x2="0" y2="0">
<stop offset="0.0000" stop-color="#4575B4"/>
<stop offset="0.1667" stop-color="#91BFDB"/>
<stop offset="0.3333" stop-color="#E0F3F8"/>
<stop offset="0.5000" stop-color="#FFFFBF"/>
<stop offset="0.6667" stop-color="#FEE090"/>
<stop offset="0.8333" stop-color="#FC8D59"/>
<stop offset="1.0000" stop-color="#D73027"/>
</linearGradient></defs>
<rect x="473.1" y="4.9" width="2.9" height="47.1" fill="url(#lg)"/>
<text x="477.3" y="14.24" font-size="6.28">2</text>
<text x="477.3" y="22.52" font-size="6.28">1</text>
<text x="477.3" y="30.80" font-size="6.28">0</text>
<text x="477.3" y="39.08" font-size="6.28">−1</text>
<text x="477.3" y="47.36" font-size="6.28">−2</text>
<text x="491" y="9.7" font-size="6.2" font-weight="bold">Group</text>
<g stroke="#B0B0B0" stroke-width="0.3">
<rect x="491" y="11.8" width="8.8" height="9" fill="#FD72C8"/>
<rect x="491" y="20.8" width="8.8" height="9" fill="#8DC400"/>
<rect x="491" y="43.10" width="8.8" height="9.02" fill="#F8837A"/>
<rect x="491" y="52.12" width="8.8" height="9.02" fill="#7CA5F8"/>
<rect x="491" y="61.14" width="8.8" height="9.02" fill="#D0AB00"/>
<rect x="491" y="70.16" width="8.8" height="9.02" fill="#FF68F1"/>
<rect x="491" y="79.18" width="8.8" height="9.02" fill="#D890FF"/>
<rect x="491" y="88.20" width="8.8" height="9.02" fill="#00D1A0"/>
<rect x="491" y="97.22" width="8.8" height="9.02" fill="#00D0E0"/>
<rect x="491" y="106.24" width="8.8" height="9.02" fill="#00BFFF"/>
<rect x="491" y="115.26" width="8.8" height="9.02" fill="#FFA024"/>
<rect x="491" y="124.28" width="8.8" height="9.02" fill="#00D05A"/>
</g>
<text x="502" y="18.2" font-size="6.2">FG</text>
<text x="502" y="27.2" font-size="6.2">ZG</text>
<text x="491" y="40.8" font-size="6.2" font-weight="bold">Phylum</text>
<text x="502" y="49.50" font-size="6.2">Bacteroidota</text>
<text x="502" y="58.52" font-size="6.2">Cyanobacteria</text>
<text x="502" y="67.54" font-size="6.2">Deferribacterota</text>
<text x="502" y="76.56" font-size="6.2">Desulfobacterota</text>
<text x="502" y="85.58" font-size="6.2">Euryarchaeota</text>
<text x="502" y="94.60" font-size="6.2">Firmicutes</text>
<text x="502" y="103.62" font-size="6.2">Fusobacteriota</text>
<text x="502" y="112.64" font-size="6.2">Patescibacteria</text>
<text x="502" y="121.66" font-size="6.2">Proteobacteria</text>
<text x="502" y="130.68" font-size="6.2">Spirochaetota</text>
</svg></body></html>
